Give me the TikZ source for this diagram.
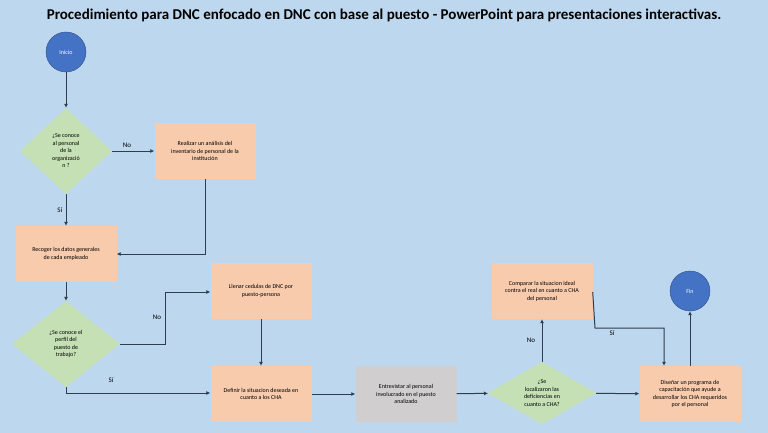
\documentclass[tikz,border=0pt]{standalone}
\usepackage{fontspec}
\setmainfont{Carlito}
\usetikzlibrary{shapes.geometric,arrows.meta}
\definecolor{bg}{HTML}{BDD7EE}
\definecolor{peach}{HTML}{F8CBAD}
\definecolor{dgreen}{HTML}{C5E0B4}
\definecolor{gray1}{HTML}{D0CECE}
\definecolor{blue1}{HTML}{4472C4}
\definecolor{ln}{HTML}{2F3E4E}
\tikzset{
 boxn/.style={rectangle,fill=peach,minimum width=101pt,minimum height=56pt,align=center,font=\fontsize{6}{7.5}\selectfont},
 dia/.style={diamond,fill=dgreen,inner sep=0pt,align=center,font=\fontsize{6}{7.5}\selectfont},
 circ/.style={circle,fill=blue1,draw=blue1!70!black,minimum size=40pt,text=white,font=\fontsize{6}{7}\selectfont},
 con/.style={draw=ln,line width=1pt,-{Latex[length=4pt,width=4pt]}},
 lab/.style={font=\fontsize{7}{8}\selectfont}
}
\begin{document}
\begin{tikzpicture}[x=1pt,y=-1pt]
\fill[bg] (0,0) rectangle (768,433);
\useasboundingbox (0,0) rectangle (768,433);
\node[font=\bfseries\fontsize{15}{17}\selectfont] (title) at (384,15) {Procedimiento para DNC enfocado en DNC con base al puesto - PowerPoint para presentaciones interactivas.};
\node[circ] (ini) at (66,52) {Inicio};
\node[dia,minimum width=92pt,minimum height=86pt] (d1) at (66,151) {¿Se conoce\\al personal\\de la\\organizació\\n ?};
\node[boxn] (b1) at (205,151) {Realizar un análisis del\\inventario de personal de la\\institución};
\node[boxn] (b2) at (66,254) {Recoger los datos generales\\de cada empleado};
\node[dia,minimum width=108pt,minimum height=86pt] (d2) at (66,344) {¿Se conoce el\\perfil del\\puesto de\\trabajo?};
\node[boxn] (b3) at (261,291) {Llenar cedulas de DNC por\\puesto-persona};
\node[boxn] (b4) at (261,394) {Definir la situacion deseada en\\cuanto a los CHA};
\node[boxn,fill=gray1] (b5) at (406,394) {Entrevistar al personal\\involucrado en el puesto\\analizado};
\node[dia,minimum width=109pt,minimum height=62pt] (d3) at (542,393) {¿Se\\localizaron las\\deficiencias en\\cuanto a CHA?};
\node[boxn] (b6) at (542,291) {Comparar la situacion ideal\\contra el real en cuanto a CHA\\del personal};
\node[boxn] (b7) at (690,394) {Diseñar un programa de\\capacitación que ayude a\\desarrollar los CHA requeridos\\por el personal};
\node[circ] (fin) at (690,291) {Fin};
\coordinate (c1) at (205,254);
\coordinate (c2) at (165,344);
\coordinate (c3) at (165,292);
\coordinate (c4) at (66,393);
\coordinate (c5) at (595,328);
\coordinate (c6) at (664,328);
\draw[con] (d1.east) -- (b1.west) node[lab,pos=0.35,above]{No};
\draw[con] (ini) -- (d1);
\draw[con] (d1.south) -- (b2.north) node[lab,midway,left]{Sí};
\draw[con] (b1.south) -- (c1) -- (b2.east);
\draw[con] (b2) -- (d2);
\draw[con] (d2.east) -- (c2) -- (c3) -- (b3.west|-c3);
\node[lab] (lno2) at (157,317) {No};
\draw[con] (b3) -- (b4);
\draw[con] (d2.south) -- (c4) -- (b4.west|-c4);
\node[lab] (lsi2) at (111,380) {Sí};
\draw[con] (b4) -- (b5);
\draw[con] (b5) -- (d3);
\draw[con] (d3) -- (b7);
\draw[con] (d3.north) -- (b6.south) node[lab,midway,left=3pt]{No};
\draw[con] (b6.east|-c5) ++(0,-36) -- (c5) -- (c6) -- (c6|-b7.north);
\node[lab] (lsi3) at (612,333) {Sí};
\draw[con] (b7.north-|fin) -- (fin.south);
\end{tikzpicture}
\end{document}
